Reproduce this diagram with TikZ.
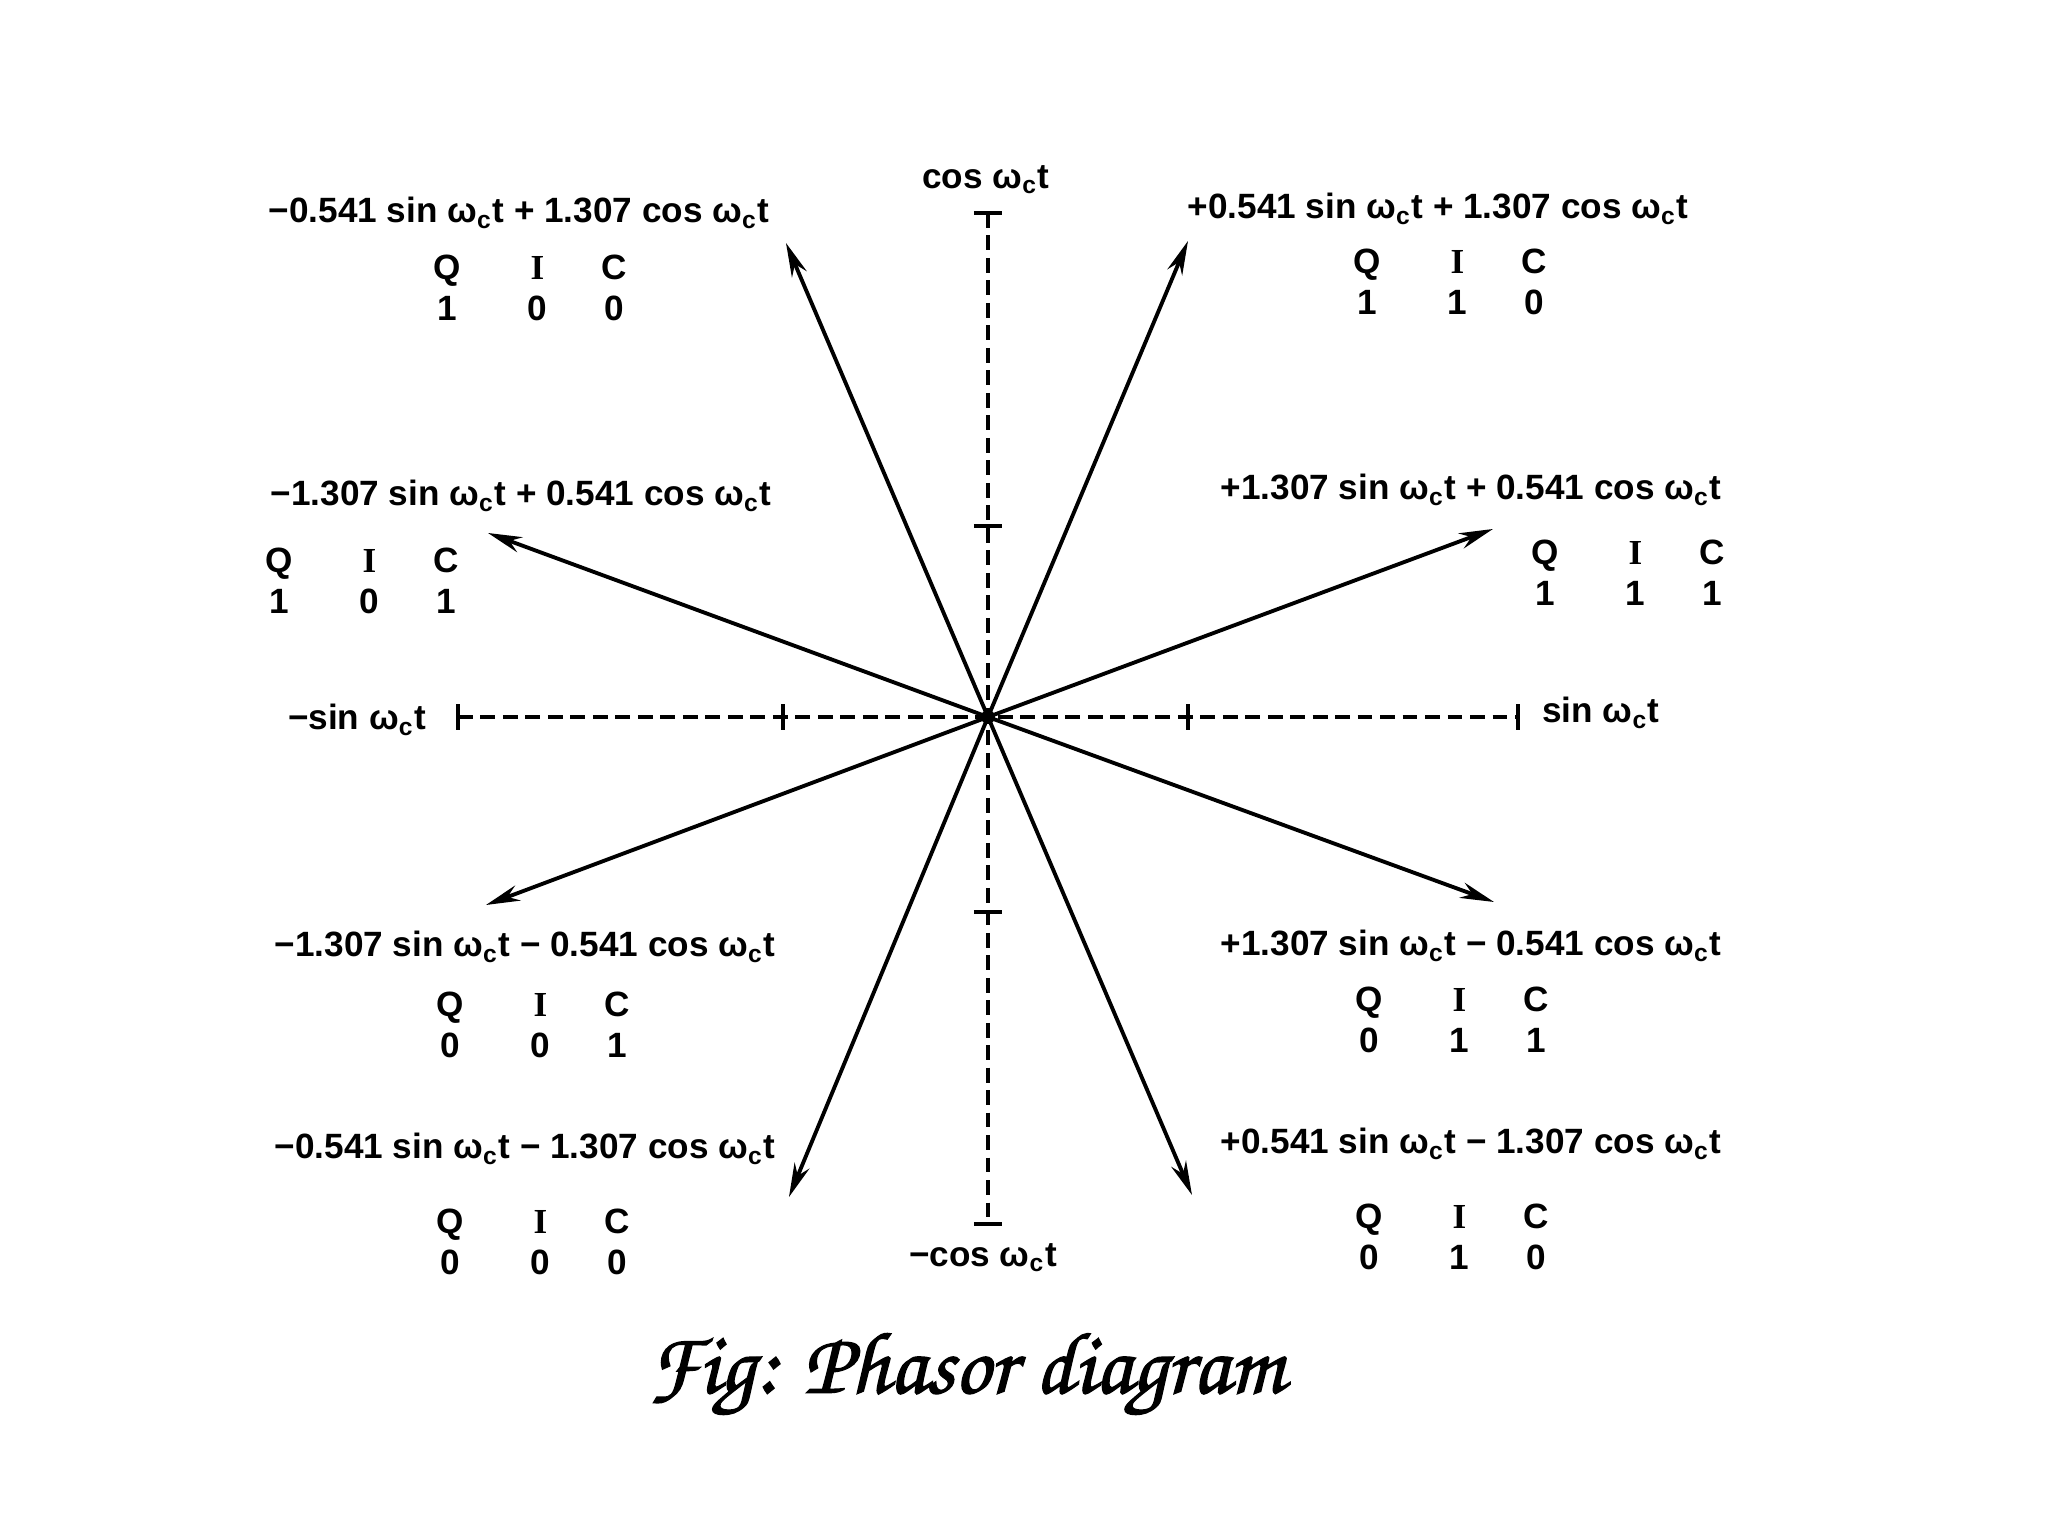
\documentclass[tikz,border=0pt]{standalone}
\usepackage{fontspec}
\setmainfont{Liberation Sans}
\newfontfamily\serifface{Liberation Serif}
\newfontfamily\capfont[FakeBold=1.5]{texgyrechorus-mediumitalic.otf}
\usetikzlibrary{arrows.meta}

\newcommand{\wct}{ω\textsubscript{c}t}
\newcommand{\qic}[3]{\begin{tabular}{@{}c@{\hspace{6.7mm}}c@{\hspace{5.4mm}}c@{}}Q & {\serifface I} & C\\ #1 & #2 & #3\end{tabular}}

\begin{document}
\begin{tikzpicture}[
    >={Stealth[length=3.4mm,width=1.6mm]},
    axis/.style={dash pattern=on 4.2pt off 2.2pt, line width=0.9pt},
    tick/.style={line width=0.9pt},
    phasor/.style={->, line width=1.1pt},
    eq/.style={font=\fontsize{10}{12}\selectfont\bfseries, inner sep=0pt},
    bits/.style={font=\fontsize{10}{11.7}\selectfont\bfseries, inner sep=0pt}
]
\useasboundingbox (-9.88,-8.19) rectangle (10.60,7.17);

\coordinate (o) at (0,0);
\coordinate (xl) at (-5.30,0);
\coordinate (xr) at (5.30,0);
\coordinate (yt) at (0,5.04);
\coordinate (yb) at (0,-5.07);
\draw[axis] (xl) -- (xr);
\draw[axis] (yt) -- (yb);
\foreach \x in {-5.30,-2.05,2.00,5.30} \draw[tick] (\x,-0.13) -- (\x,0.13);
\foreach \y in {5.04,1.91,-1.95,-5.07} \draw[tick] (-0.14,\y) -- (0.14,\y);

\coordinate (p100) at (-2.02,4.74);
\coordinate (p110) at (2.00,4.76);
\coordinate (p101) at (-5.00,1.84);
\coordinate (p111) at (5.05,1.88);
\coordinate (p001) at (-5.02,-1.88);
\coordinate (p011) at (5.06,-1.85);
\coordinate (p000) at (-1.99,-4.80);
\coordinate (p010) at (2.04,-4.78);
\foreach \b in {100,110,101,111,001,011,000,010} \draw[phasor] (o) -- (p\b);
\fill (o) circle (0.07);

\node[eq] (cos) at (-0.02,5.37) {cos \wct};
\node[eq] (mcos) at (-0.05,-5.41) {−cos \wct};
\node[eq] (msin) at (-6.31,-0.03) {−sin \wct};
\node[eq] (sin) at (6.13,0.04) {sin \wct};

\node[eq] (e100) at (-4.69,5.04) {−0.541 sin \wct{} + 1.307 cos \wct};
\node[bits] (b100) at (-4.58,4.25) {\qic100};
\node[eq] (e110) at (4.50,5.08) {+0.541 sin \wct{} + 1.307 cos \wct};
\node[bits] (b110) at (4.62,4.31) {\qic110};
\node[eq] (e101) at (-4.67,2.21) {−1.307 sin \wct{} + 0.541 cos \wct};
\node[bits] (b101) at (-6.26,1.32) {\qic101};
\node[eq] (e111) at (4.83,2.27) {+1.307 sin \wct{} + 0.541 cos \wct};
\node[bits] (b111) at (6.40,1.40) {\qic111};
\node[eq] (e001) at (-4.63,-2.30) {−1.307 sin \wct{} − 0.541 cos \wct};
\node[bits] (b001) at (-4.55,-3.12) {\qic001};
\node[eq] (e011) at (4.83,-2.29) {+1.307 sin \wct{} − 0.541 cos \wct};
\node[bits] (b011) at (4.64,-3.07) {\qic011};
\node[eq] (e000) at (-4.63,-4.32) {−0.541 sin \wct{} − 1.307 cos \wct};
\node[bits] (b000) at (-4.55,-5.29) {\qic000};
\node[eq] (e010) at (4.83,-4.27) {+0.541 sin \wct{} − 1.307 cos \wct};
\node[bits] (b010) at (4.64,-5.24) {\qic010};

\node[font=\capfont\fontsize{25}{30}\selectfont, inner sep=0pt] (cap) at (-0.22,-6.57) {Fig: Phasor diagram};
\end{tikzpicture}
\end{document}
